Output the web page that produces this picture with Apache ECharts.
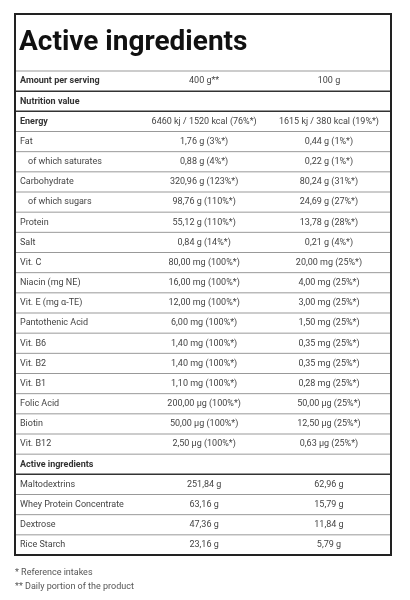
<!DOCTYPE html>
<html lang="en">
<head>
    <meta charset="UTF-8">
    <title>Active ingredients</title>
    <script src="https://cdn.jsdelivr.net/npm/echarts@6/dist/echarts.min.js"></script>
    <style>
        html,body{margin:0;padding:0;background:#fff;}
        #chart{width:410px;height:600px;}
    </style>
</head>
<body>
<div id="chart"></div>
<script>
    'use strict';
    // rows of the table
    var labels=['Amount per serving','Nutrition value','Energy','Fat','of which saturates','Carbohydrate','of which sugars',
        'Protein','Salt','Vit. C','Niacin (mg NE)','Vit. E (mg α-TE)','Pantothenic Acid','Vit. B6','Vit. B2','Vit. B1',
        'Folic Acid','Biotin','Vit. B12','Active ingredients','Maltodextrins','Whey Protein Concentrate','Dextrose','Rice Starch'];
    var perServing=['400 g**','','6460 kj / 1520 kcal (76%*)','1,76 g (3%*)','0,88 g (4%*)','320,96 g (123%*)','98,76 g (110%*)',
        '55,12 g (110%*)','0,84 g (14%*)','80,00 mg (100%*)','16,00 mg (100%*)','12,00 mg (100%*)','6,00 mg (100%*)',
        '1,40 mg (100%*)','1,40 mg (100%*)','1,10 mg (100%*)','200,00 µg (100%*)','50,00 µg (100%*)','2,50 µg (100%*)',
        '','251,84 g','63,16 g','47,36 g','23,16 g'];
    var per100=['100 g','','1615 kj / 380 kcal (19%*)','0,44 g (1%*)','0,22 g (1%*)','80,24 g (31%*)','24,69 g (27%*)',
        '13,78 g (28%*)','0,21 g (4%*)','20,00 mg (25%*)','4,00 mg (25%*)','3,00 mg (25%*)','1,50 mg (25%*)',
        '0,35 mg (25%*)','0,35 mg (25%*)','0,28 mg (25%*)','50,00 µg (25%*)','12,50 µg (25%*)','0,63 µg (25%*)',
        '','62,96 g','15,79 g','11,84 g','5,79 g'];
    // 0 normal, 1 bold header, 2 indented
    var kinds=[1,1,1,0,2,0,2,0,0,0,0,0,0,0,0,0,0,0,0,1,0,0,0,0];
    var notes=['* Reference intakes','** Daily portion of the product'];

    var font='Roboto, "DejaVu Sans Condensed", sans-serif';
    var chart=echarts.init(document.getElementById('chart'));

    function renderRow(params,api){
        var i=api.value(0);
        var c=api.coord([0,i]);
        var h=api.size([0,1])[1];
        var x0=params.coordSys.x, w=params.coordSys.width;
        var top=c[1]-h/2, bottom=c[1]+h/2;
        var k=kinds[i];
        var bold=k===1;
        var children=[];
        children.push({type:'text',style:{text:labels[i],x:x0+(k===2?13:5),y:c[1],
            textVerticalAlign:'middle',fill:bold?'#333':'#444',
            font:(bold?'bold ':'')+'9px '+font}});
        children.push({type:'text',style:{text:perServing[i],x:x0+w*0.503,y:c[1],textAlign:'center',
            textVerticalAlign:'middle',fill:'#444',font:'9px '+font}});
        children.push({type:'text',style:{text:per100[i],x:x0+w*0.835,y:c[1],textAlign:'center',
            textVerticalAlign:'middle',fill:'#444',font:'9px '+font}});
        if(i<labels.length-1){
            var dark=(i===0||i===1||i===19);
            children.push({type:'line',shape:{x1:x0,y1:bottom,x2:x0+w,y2:bottom},
                style:{stroke:dark?'#333':'#999',lineWidth:dark?1.5:1}});
        }
        if(i===0){
            children.push({type:'line',shape:{x1:x0,y1:top,x2:x0+w,y2:top},style:{stroke:'#999',lineWidth:1}});
        }
        return {type:'group',children:children};
    }

    var option={
        animation:false,
        title:{text:'Active ingredients',left:14,top:24,
            textStyle:{fontFamily:font,fontSize:28,fontWeight:'bold',color:'#111'}},
        grid:{left:15,right:19,top:71,height:484},
        xAxis:{type:'value',min:0,max:1,show:false},
        yAxis:{type:'category',data:labels,inverse:true,show:false},
        graphic:[
            {type:'rect',shape:{x:15,y:14,width:376,height:541},style:{fill:'none',stroke:'#222',lineWidth:2},z:10},
            {type:'text',left:15,top:568,style:{text:notes[0],fill:'#555',font:'9px '+font}},
            {type:'text',left:15,top:582,style:{text:notes[1],fill:'#555',font:'9px '+font}}
        ],
        series:[{
            type:'custom',
            renderItem:renderRow,
            encode:{y:0},
            data:labels.map(function(l,i){return [i];})
        }]
    };
    chart.setOption(option);
</script>
</body>
</html>
